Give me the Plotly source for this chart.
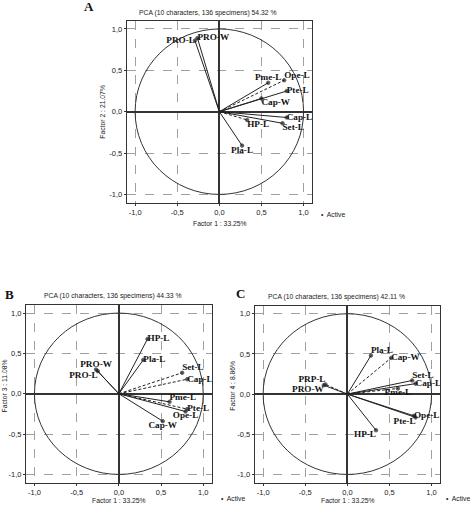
import plotly.graph_objects as go

W, H = 474, 512

# ---------------- data ----------------
tick_vals = [-1.0, -0.5, 0.0, 0.5, 1.0]
tick_text = ["-1,0", "-0,5", "0,0", "0,5", "1,0"]

# Panel A : Factor 1 vs Factor 2
a_labels = ["PRO-L", "PRO-W", "Pme-L", "Ope-L", "Pte-L", "Cap-W", "Cap-L", "Set-L", "HP-L", "Pla-L"]
a_f1 = [-0.29, -0.26, 0.58, 0.77, 0.80, 0.50, 0.80, 0.75, 0.33, 0.27]
a_f2 = [0.86, 0.89, 0.35, 0.38, 0.25, 0.16, -0.07, -0.14, -0.10, -0.41]

# Panel B : Factor 1 vs Factor 3
b_labels = ["HP-L", "Pla-L", "PRO-W", "PRO-L", "Set-L", "Cap-L", "Pme-L", "Pte-L", "Ope-L", "Cap-W"]
b_f1 = [0.34, 0.29, -0.27, -0.25, 0.75, 0.81, 0.60, 0.81, 0.79, 0.52]
b_f3 = [0.68, 0.42, 0.30, 0.28, 0.26, 0.18, -0.10, -0.19, -0.22, -0.34]

# Panel C : Factor 1 vs Factor 4
c_labels = ["Pla-L", "Cap-W", "PRP-L", "PRO-W", "Set-L", "Cap-L", "Pme-L", "Ope-L", "Pte-L", "HP-L"]
c_f1 = [0.28, 0.52, -0.26, -0.28, 0.77, 0.81, 0.60, 0.79, 0.81, 0.34]
c_f4 = [0.48, 0.45, 0.12, 0.11, 0.17, 0.13, 0.07, -0.27, -0.29, -0.45]

titles = ["PCA (10 characters, 136 specimens) 54.32 %",
          "PCA (10 characters, 136 specimens) 44.33 %",
          "PCA (10 characters, 136 specimens) 42.11 %"]
x_title = "Factor 1 : 33.25%"
y_titles = ["Factor 2 : 21.07%", "Factor 3 : 11.08%", "Factor 4 : 8.86%"]
panel_letters = ["A", "B", "C"]
legend_text = "•  Active"

# ---------------- style ----------------
dashed = [{"Ope-L", "HP-L"},
          {"Set-L", "Cap-L", "Pte-L"},
          {"PRP-L", "Pme-L", "Cap-W"}]
text_pos = [
    {"PRO-L": "middle left", "PRO-W": "middle right", "Pme-L": "top center",
     "Ope-L": "top right", "Pte-L": "middle right", "Cap-W": "bottom right",
     "Cap-L": "middle right", "Set-L": "bottom right", "HP-L": "bottom right",
     "Pla-L": "bottom center"},
    {"HP-L": "middle right", "Pla-L": "middle right", "PRO-W": "top center",
     "PRO-L": "bottom left", "Set-L": "top right", "Cap-L": "middle right",
     "Pme-L": "top right", "Pte-L": "middle right", "Ope-L": "bottom center",
     "Cap-W": "bottom center"},
    {"Pla-L": "top right", "Cap-W": "middle right", "PRP-L": "top left",
     "PRO-W": "bottom left", "Set-L": "top right", "Cap-L": "middle right",
     "Pme-L": "bottom center", "Ope-L": "middle right", "Pte-L": "bottom left",
     "HP-L": "bottom left"},
]

# frames in pixels: x0, x1, y0(top), y1(bottom)
frames = [(126.7, 312.0, 20.7, 202.7),
          (26.0, 211.7, 305.0, 482.5),
          (254.7, 440.0, 305.7, 482.5)]

INK = "#222222"
fig = go.Figure()

panels = [(a_labels, a_f1, a_f2), (b_labels, b_f1, b_f3), (c_labels, c_f1, c_f4)]

for p, (labels, fx, fy) in enumerate(panels):
    xa = "x" if p == 0 else f"x{p+1}"
    ya = "y" if p == 0 else f"y{p+1}"
    for i, lab in enumerate(labels):
        fig.add_trace(go.Scatter(
            x=[0, fx[i]], y=[0, fy[i]], mode="lines+markers",
            line=dict(color=INK, width=1, dash="3px,2px" if lab in dashed[p] else "solid"),
            marker=dict(size=[0, 3.5], color="#111"),
            xaxis=xa, yaxis=ya, showlegend=False, hoverinfo="skip"))
    fig.add_trace(go.Scatter(
        x=fx, y=fy, mode="text", text=labels,
        textposition=[text_pos[p][l] for l in labels],
        textfont=dict(family="Liberation Serif", size=9.2, color="#111", weight="bold"),
        xaxis=xa, yaxis=ya, showlegend=False, hoverinfo="skip"))
    fig.add_shape(type="circle", xref=xa, yref=ya, x0=-1, y0=-1, x1=1, y1=1,
                  line=dict(color="#333", width=1))

def axis_cfg(dom, anchor):
    return dict(domain=dom, anchor=anchor, range=[-1.1, 1.1],
                tickvals=tick_vals, ticktext=tick_text,
                showgrid=True, gridcolor="#a0a0a0", griddash="dash", gridwidth=1,
                zeroline=True, zerolinecolor="#333", zerolinewidth=1.5,
                showline=True, linecolor="#333", linewidth=1, mirror=True,
                ticks="outside", ticklen=2, tickcolor="#333",
                tickfont=dict(family="Liberation Sans", size=7.5, color="#222"),
                fixedrange=True)

layout = dict(width=W, height=H, margin=dict(l=0, r=0, t=0, b=0),
              paper_bgcolor="white", plot_bgcolor="white", showlegend=False)
for p, (x0, x1, y0, y1) in enumerate(frames):
    sx = "" if p == 0 else str(p + 1)
    layout["xaxis" + sx] = axis_cfg([x0 / W, x1 / W], "y" + sx)
    layout["yaxis" + sx] = axis_cfg([1 - y1 / H, 1 - y0 / H], "x" + sx)
fig.update_layout(**layout)

def ann(text, px, py, size=7, angle=0, family="Liberation Sans", bold=False, xanchor="center", color="#222"):
    fig.add_annotation(text=text, x=px / W, y=1 - py / H, xref="paper", yref="paper",
                       showarrow=False, textangle=angle, xanchor=xanchor, yanchor="middle",
                       font=dict(family=family, size=size, color=color,
                                 weight="bold" if bold else "normal"))

title_pos = [(208, 13.3), (113, 295.5), (336.5, 297.3)]
xtitle_pos = [(219.5, 223), (118.7, 500.5), (348, 500.5)]
ytitle_pos = [(103, 111.7), (3.5, 386), (231.7, 386)]
letter_pos = [(89, 6), (9, 294), (240, 293)]
legend_pos = [(319, 214), (218.5, 498), (444, 498.3)]

for p in range(3):
    ann(titles[p], *title_pos[p], size=6.8)
    ann(x_title, *xtitle_pos[p], size=6.8)
    ann(y_titles[p], *ytitle_pos[p], size=6.8, angle=-90)
    ann(panel_letters[p], *letter_pos[p], size=13, family="Liberation Serif", bold=True, color="#111")
    ann(legend_text, *legend_pos[p], size=6.8, xanchor="left")

fig.write_html("out.html")
